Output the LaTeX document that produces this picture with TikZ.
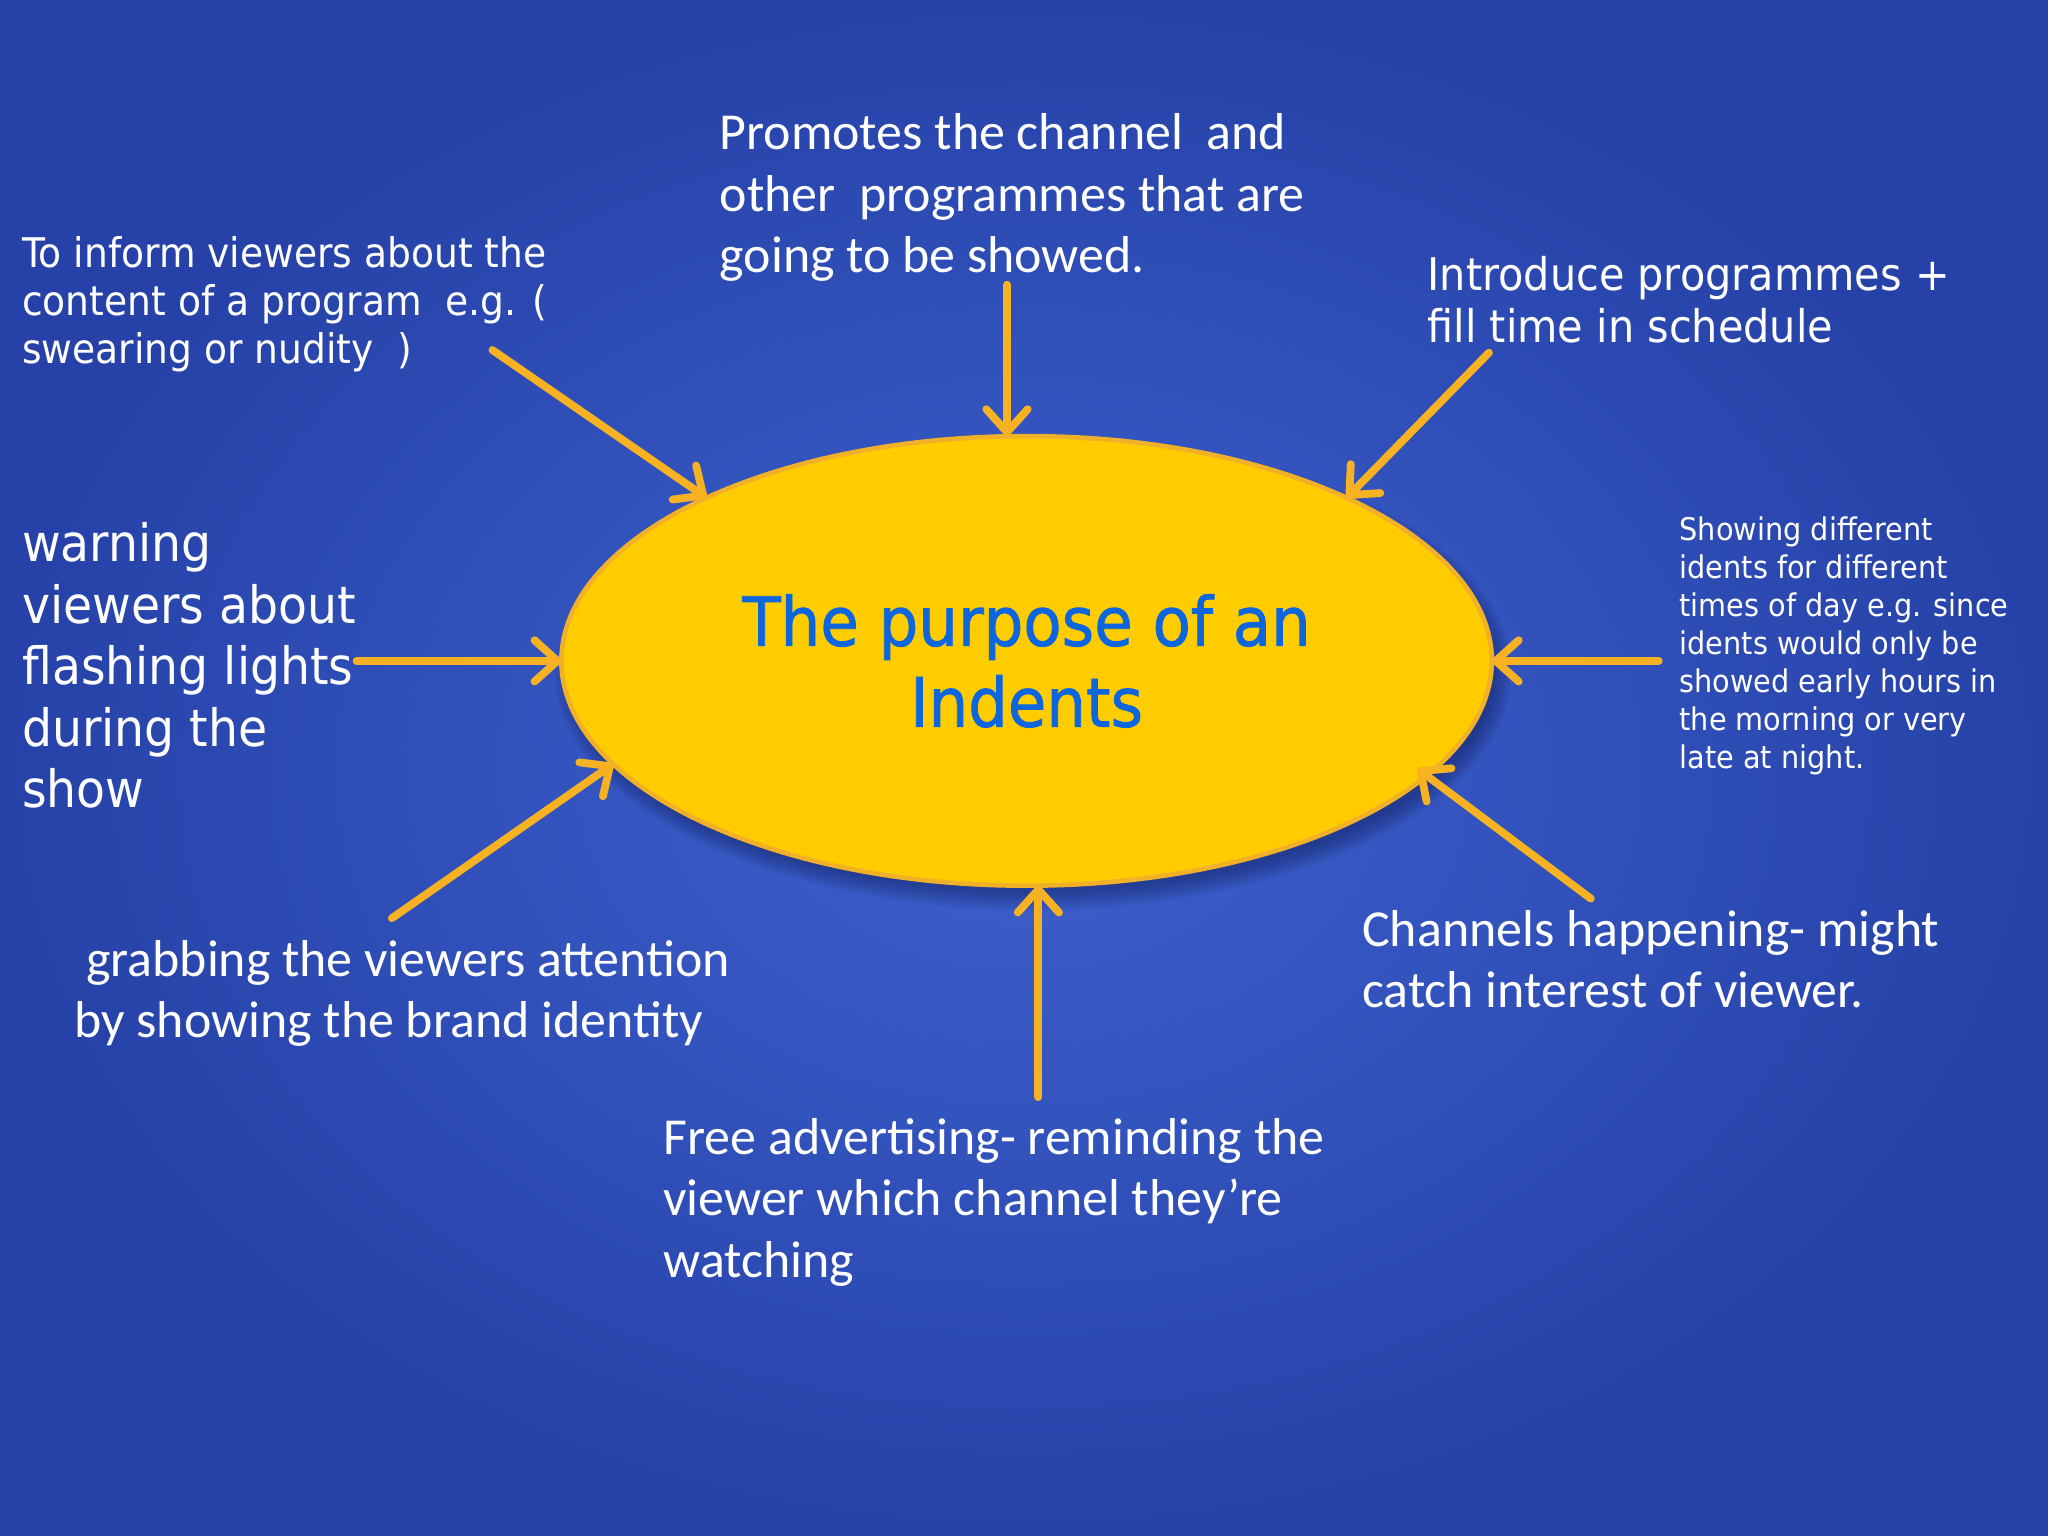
\documentclass[tikz,border=0pt]{standalone}
\usepackage{fontspec}
\setmainfont{Carlito}
\newfontfamily\comic[FakeStretch=0.92]{DejaVu Sans}
\newfontfamily\comictitle[FakeStretch=0.92,FakeBold=1.2]{DejaVu Sans}
\usetikzlibrary{arrows.meta,shapes.geometric}
\definecolor{bgin}{RGB}{62,98,208}
\definecolor{bgout}{RGB}{38,66,168}
\definecolor{arr}{RGB}{247,178,35}
\definecolor{ellfill}{RGB}{255,204,0}
\definecolor{ellline}{RGB}{240,176,40}
\definecolor{titleblue}{RGB}{14,102,222}
\definecolor{shadowc}{RGB}{10,20,70}
\tikzset{
  txt/.style={text=white, inner sep=0pt, outer sep=0pt, anchor=north west, align=left},
  cal/.style={txt, font=\fontsize{11.3}{13.4}\selectfont},
  arrowsty/.style={draw=arr, line width=1.7pt, line cap=round,
    -{Straight Barb[length=5pt,width=9pt,line cap=round,line join=round]}},
  ellsty/.style={ellipse, minimum width=7.12cm, minimum height=3.44cm, inner sep=0pt, outer sep=0pt,
    fill=ellfill, draw=ellline, line width=1pt},
  shadowsty/.style={fill=shadowc, opacity=0.06}
}
\begin{document}
\begin{tikzpicture}[x=0.01cm,y=-0.01cm]
\useasboundingbox (0,0) rectangle (1568,1176);
\shade[inner color=bgin, outer color=bgout] (0,0) rectangle (1568,1176);

\foreach \i in {0,...,7}
  \fill[shadowsty] (791,515) ellipse [x radius={(352+2*\i)*0.01cm}, y radius={(168+2*\i)*0.01cm}];

\node[ellsty, text=titleblue, align=center, font=\comictitle\fontsize{14.8}{17.6}\selectfont] (ell) at (786,506)
  {The purpose of an\\Indents};

\node[txt, font=\comic\fontsize{8.9}{10.5}\selectfont] (inform) at (17,181)
  {To inform viewers about the\\content of a program~ e.g. (\\swearing or nudity~ )};
\node[cal] (promo) at (551,87)
  {Promotes the channel~ and\\other~ programmes that are\\going to be showed.};
\node[txt, font=\comic\fontsize{9.8}{11.4}\selectfont] (intro) at (1093,196)
  {Introduce programmes +\\fill time in schedule};
\node[txt, font=\comic\fontsize{11.2}{13.4}\selectfont] (warn) at (17,400)
  {warning\\viewers about\\flashing lights\\during the\\show};
\node[txt, font=\comic\fontsize{6.8}{8.25}\selectfont] (show) at (1286,396)
  {Showing different\\idents for different\\times of day e.g. since\\idents would only be\\showed early hours in\\the morning or very\\late at night.};
\node[cal] (grab) at (57,720)
  {\ grabbing the viewers attention\\by showing the brand identity};
\node[cal] (chan) at (1043,697)
  {Channels happening- might\\catch interest of viewer.};
\node[cal] (free) at (508,856)
  {Free advertising- reminding the\\viewer which channel they’re\\watching};

\coordinate (sa) at (377,268);
\coordinate (sb) at (771,218);
\coordinate (sc) at (1140,270);
\coordinate (sd) at (273,506);
\coordinate (se) at (1270,506);
\coordinate (sf) at (300,703);
\coordinate (sg) at (795,840);
\coordinate (sh) at (1218,688);

\draw[arrowsty] (sa) -- (ell.153.8);
\draw[arrowsty] (sb) -- (sb |- ell.north);
\draw[arrowsty] (sc) -- (ell.27.1);
\draw[arrowsty] (sd) -- (ell.west);
\draw[arrowsty] (se) -- (ell.east);
\draw[arrowsty] (sf) -- (ell.194.2);
\draw[arrowsty] (sg) -- (sg |- ell.south);
\draw[arrowsty, shorten >=-2.5pt] (sh) -- (ell.344);
\end{tikzpicture}
\end{document}
